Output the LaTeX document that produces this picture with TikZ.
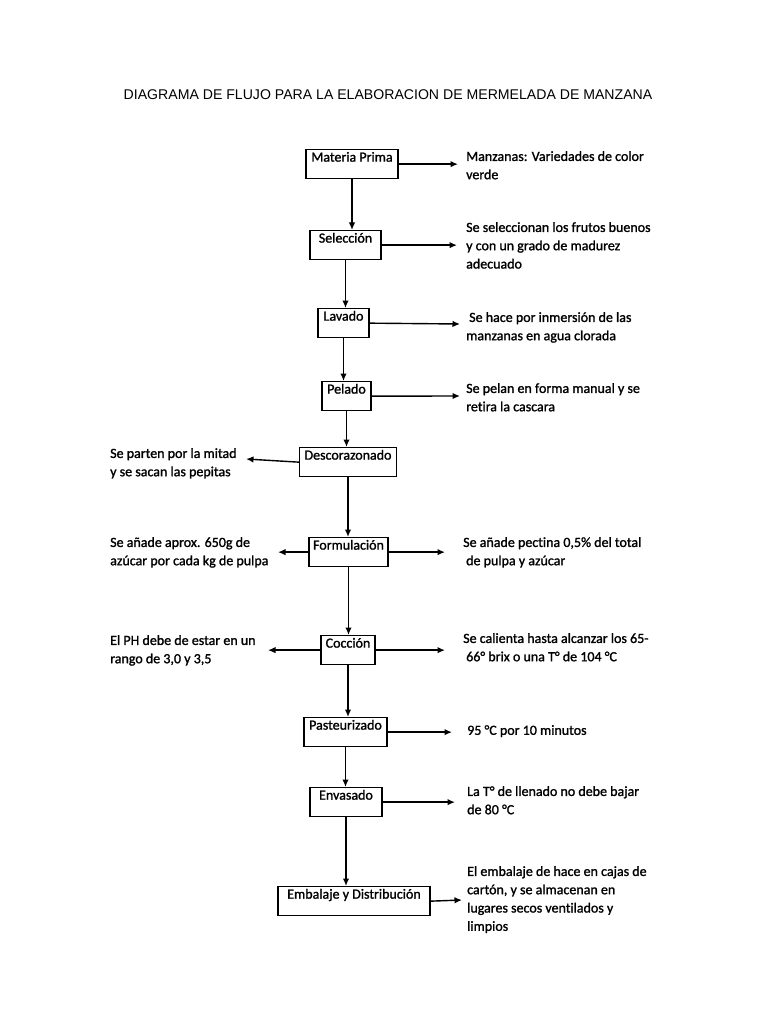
\documentclass[tikz,border=0pt]{standalone}
\usepackage{fontspec}
\setmainfont{Carlito}[Ligatures=NoCommon]
\newfontfamily\notafont{Carlito}[Ligatures=NoCommon, FakeBold=1.3]
\newfontfamily\titlefont{Liberation Sans}
\usetikzlibrary{positioning,arrows.meta}

\tikzset{
  paso/.style={draw, line width=1.3pt, rectangle, anchor=north, inner xsep=0pt, inner ysep=0pt,
    text height=12pt, text depth=17pt, font=\notafont\fontsize{14}{18}\selectfont},
  nota/.style={inner sep=0pt, align=left, font=\notafont\fontsize{14}{18.3}\selectfont},
  flecha/.style={-{Latex[length=7.5pt,width=6.5pt]}, line width=1.4pt}
}

\begin{document}
\begin{tikzpicture}[x=1pt, y=-1pt]
  \useasboundingbox (0,0) rectangle (768,1024);
  \fill[white] (0,0) rectangle (768,1024);

  % titulo
  \node[font=\titlefont\fontsize{14.1}{16}\selectfont, anchor=base] (titulo) at (388,100)
    {DIAGRAMA DE FLUJO PARA LA ELABORACION DE MERMELADA DE MANZANA};

  % pasos del proceso
  \node[paso, minimum width=92pt] (mp) at (352,149) {Materia Prima};
  \node[paso, minimum width=71pt] (sel) at (345.5,230) {Selección};
  \node[paso, minimum width=51pt] (lav) at (343.5,308) {Lavado};
  \node[paso, minimum width=49pt] (pel) at (346.5,381) {Pelado};
  \node[paso, minimum width=97pt] (des) at (348,447) {Descorazonado};
  \node[paso, minimum width=79pt] (form) at (348.5,537) {Formulación};
  \node[paso, minimum width=54pt] (coc) at (348,635) {Cocción};
  \node[paso, minimum width=83pt] (past) at (345.5,717) {Pasteurizado};
  \node[paso, minimum width=72pt] (env) at (346,787) {Envasado};
  \node[paso, minimum width=152pt] (emb) at (354,886) {Embalaje y Distribución};

  % notas
  \node[nota, anchor=north west] (n1) at (466,151) {Manzanas: Variedades de color\\verde};
  \node[nota, anchor=north west] (n2) at (466,222) {Se seleccionan los frutos buenos\\y con un grado de madurez\\adecuado};
  \node[nota, anchor=north west] (n3) at (466,312) {\hspace{3pt}Se hace por inmersión de las\\manzanas en agua clorada};
  \node[nota, anchor=north west] (n4) at (466,383) {Se pelan en forma manual y se\\retira la cascara};
  \node[nota, anchor=north west] (n5) at (110,448) {Se parten por la mitad\\y se sacan las pepitas};
  \node[nota, anchor=north west] (n6) at (110,537) {Se añade aprox. 650g de\\azúcar por cada kg de pulpa};
  \node[nota, anchor=north west] (n7) at (463,537) {Se añade pectina 0,5\% del total\\\hspace{3pt}de pulpa y azúcar};
  \node[nota, anchor=north west] (n8) at (110,635) {El PH debe de estar en un\\rango de 3,0 y 3,5};
  \node[nota, anchor=north west] (n9) at (463,633) {Se calienta hasta alcanzar los 65-\\\hspace{3pt}66° brix o una T° de 104 °C};
  \node[nota, anchor=north west] (n10) at (467,725) {95 °C por 10 minutos};
  \node[nota, anchor=north west] (n11) at (467,786) {La T° de llenado no debe bajar\\de 80 °C};
  \node[nota, anchor=north west] (n12) at (467,866) {El embalaje de hace en cajas de\\cartón, y se almacenan en\\lugares secos ventilados y\\limpios};

  % extremos de las flechas
  \coordinate (e1) at (458,162);
  \coordinate (e2) at (457,243);
  \coordinate (e3) at (460,324);
  \coordinate (e4) at (460,396);
  \coordinate (e5) at (246,459);
  \coordinate (e6) at (278,551);
  \coordinate (e7) at (445,551);
  \coordinate (e8) at (268,649);
  \coordinate (e9) at (445,649);
  \coordinate (e10) at (452,731);
  \coordinate (e11) at (455,801);
  \coordinate (e12) at (462,900);

  % flujo principal
  \draw[flecha] (mp.south) -- (mp.south |- sel.north);
  \draw[flecha] (sel.south) -- (sel.south |- lav.north);
  \draw[flecha] (lav.south) -- (lav.south |- pel.north);
  \draw[flecha] (pel.south) -- (pel.south |- des.north);
  \draw[flecha] (des.south) -- (des.south |- form.north);
  \draw[flecha] (form.south) -- (form.south |- coc.north);
  \draw[flecha] (coc.south) -- (coc.south |- past.north);
  \draw[flecha] (past.south) -- (past.south |- env.north);
  \draw[flecha] (env.south) -- (env.south |- emb.north);

  % flechas hacia las notas
  \draw[flecha] (mp.east) -- (mp.east -| e1);
  \draw[flecha] (sel.east) -- (sel.east -| e2);
  \draw[flecha] (lav.east) -- (e3);
  \draw[flecha] (pel.east) -- (e4);
  \draw[flecha] (des.west) -- (e5);
  \draw[flecha] (form.west) -- (form.west -| e6);
  \draw[flecha] (form.east) -- (form.east -| e7);
  \draw[flecha] (coc.west) -- (coc.west -| e8);
  \draw[flecha] (coc.east) -- (coc.east -| e9);
  \draw[flecha] (past.east) -- (past.east -| e10);
  \draw[flecha] (env.east) -- (env.east -| e11);
  \draw[flecha] (emb.east) -- (e12);
\end{tikzpicture}
\end{document}
